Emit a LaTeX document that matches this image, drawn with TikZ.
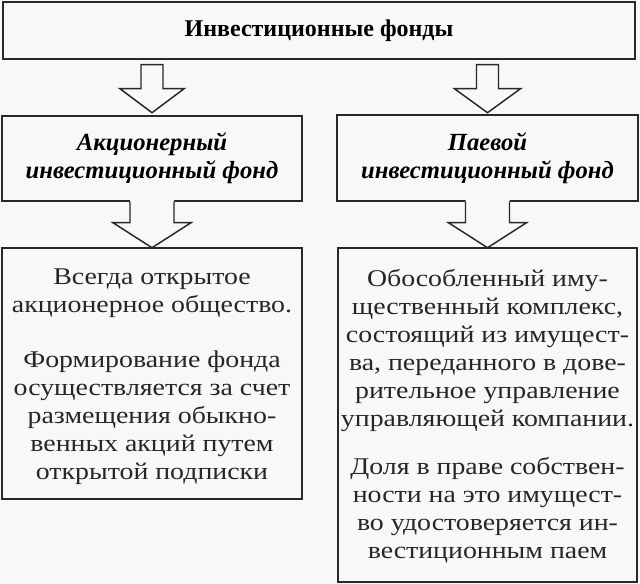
\documentclass[tikz,border=0pt]{standalone}
\usepackage{fontspec}
\setmainfont{Liberation Serif}
\newfontfamily\breitfont[FakeStretch=1.16]{Liberation Serif}
\usepackage{xcolor}
\usetikzlibrary{positioning}

\definecolor{papier}{RGB}{248,248,248}
\definecolor{linie}{RGB}{40,40,40}

\begin{document}
\begin{tikzpicture}[x=0.75pt,y=-0.75pt]

    % --- STILE ---
    \tikzset{fondbox/.style={draw=linie, line width=1.1pt, fill=papier, inner sep=0pt, align=center}}
    \tikzset{fondtext/.style={inner sep=0pt, align=center, text=black!85, font=\breitfont\fontsize{18}{21}\selectfont}}

    \tikzset{
        pics/blockarrow/.style n args={4}{
            code={
                % #1 halbe Schaftbreite, #2 halbe Kopfbreite, #3 Laenge, #4 Kopflaenge
                \draw[fill=papier, draw=linie, line width=1.1pt] (-#1,0) -- (-#1,#3-#4) -- (-#2,#3-#4) -- (0,#3) -- (#2,#3-#4) -- (#1,#3-#4) -- (#1,0) -- cycle;
            }
        },
        pics/openarrow/.style n args={4}{
            code={
                % oben offen, verdeckt die Kastenlinie
                \fill[papier] (-#1,-2) -- (-#1,#3-#4) -- (-#2,#3-#4) -- (0,#3) -- (#2,#3-#4) -- (#1,#3-#4) -- (#1,-2) -- cycle;
                \draw[draw=linie, line width=1.1pt] (-#1,0) -- (-#1,#3-#4) -- (-#2,#3-#4) -- (0,#3) -- (#2,#3-#4) -- (#1,#3-#4) -- (#1,0);
            }
        }
    }

    % --- HINTERGRUND ---
    \useasboundingbox[fill=papier] (0,0) rectangle (640,584);

    % --- KAESTEN ---
    \node[fondbox, minimum width=474pt, minimum height=42.75pt, font=\fontsize{18}{20}\selectfont\bfseries] (fonds) at (319,30.5) {Инвестиционные фонды};

    \node[fondbox, minimum width=225pt, minimum height=63.75pt, font=\fontsize{18.5}{21}\selectfont\bfseries\itshape] (aif) at (152,158.5) {Акционерный\\инвестиционный фонд};
    \node[fondbox, minimum width=225.75pt, minimum height=64.5pt, font=\fontsize{18.5}{21}\selectfont\bfseries\itshape] (pif) at (487.5,158) {Паевой\\инвестиционный фонд};

    \node[fondbox, minimum width=225pt, minimum height=188.25pt] (aifbox) at (152,373.5) {};
    \node[fondbox, minimum width=224.25pt, minimum height=250.5pt] (pifbox) at (487.5,415) {};

    % --- TEXTE ---
    \node[fondtext, anchor=north] (aiftext) at (aifbox.north |- 0,269) {Всегда открытое\\акционерное общество.\\[20pt]
        Формирование фонда\\осуществляется за счет\\размещения обыкно-\\венных акций путем\\открытой подписки};
    \node[fondtext, anchor=north] (piftext) at (pifbox.north |- 0,269) {Обособленный иму-\\щественный комплекс,\\состоящий из имущест-\\ва, переданного в дове-\\рительное управление\\управляющей компании.\\[15pt]
        Доля в праве собствен-\\ности на это имущест-\\во удостоверяется ин-\\вестиционным паем};

    % --- PFEILE ---
    \pic[yshift=-3.75pt] at (fonds.south -| aif.north) {blockarrow={11}{32}{48}{24}};
    \pic[yshift=-3.75pt] at (fonds.south -| pif.north) {blockarrow={11}{33}{48}{24}};
    \pic at (aif.south) {openarrow={22}{39}{46}{25}};
    \pic at (pif.south) {openarrow={22}{39}{46}{25}};

\end{tikzpicture}
\end{document}
